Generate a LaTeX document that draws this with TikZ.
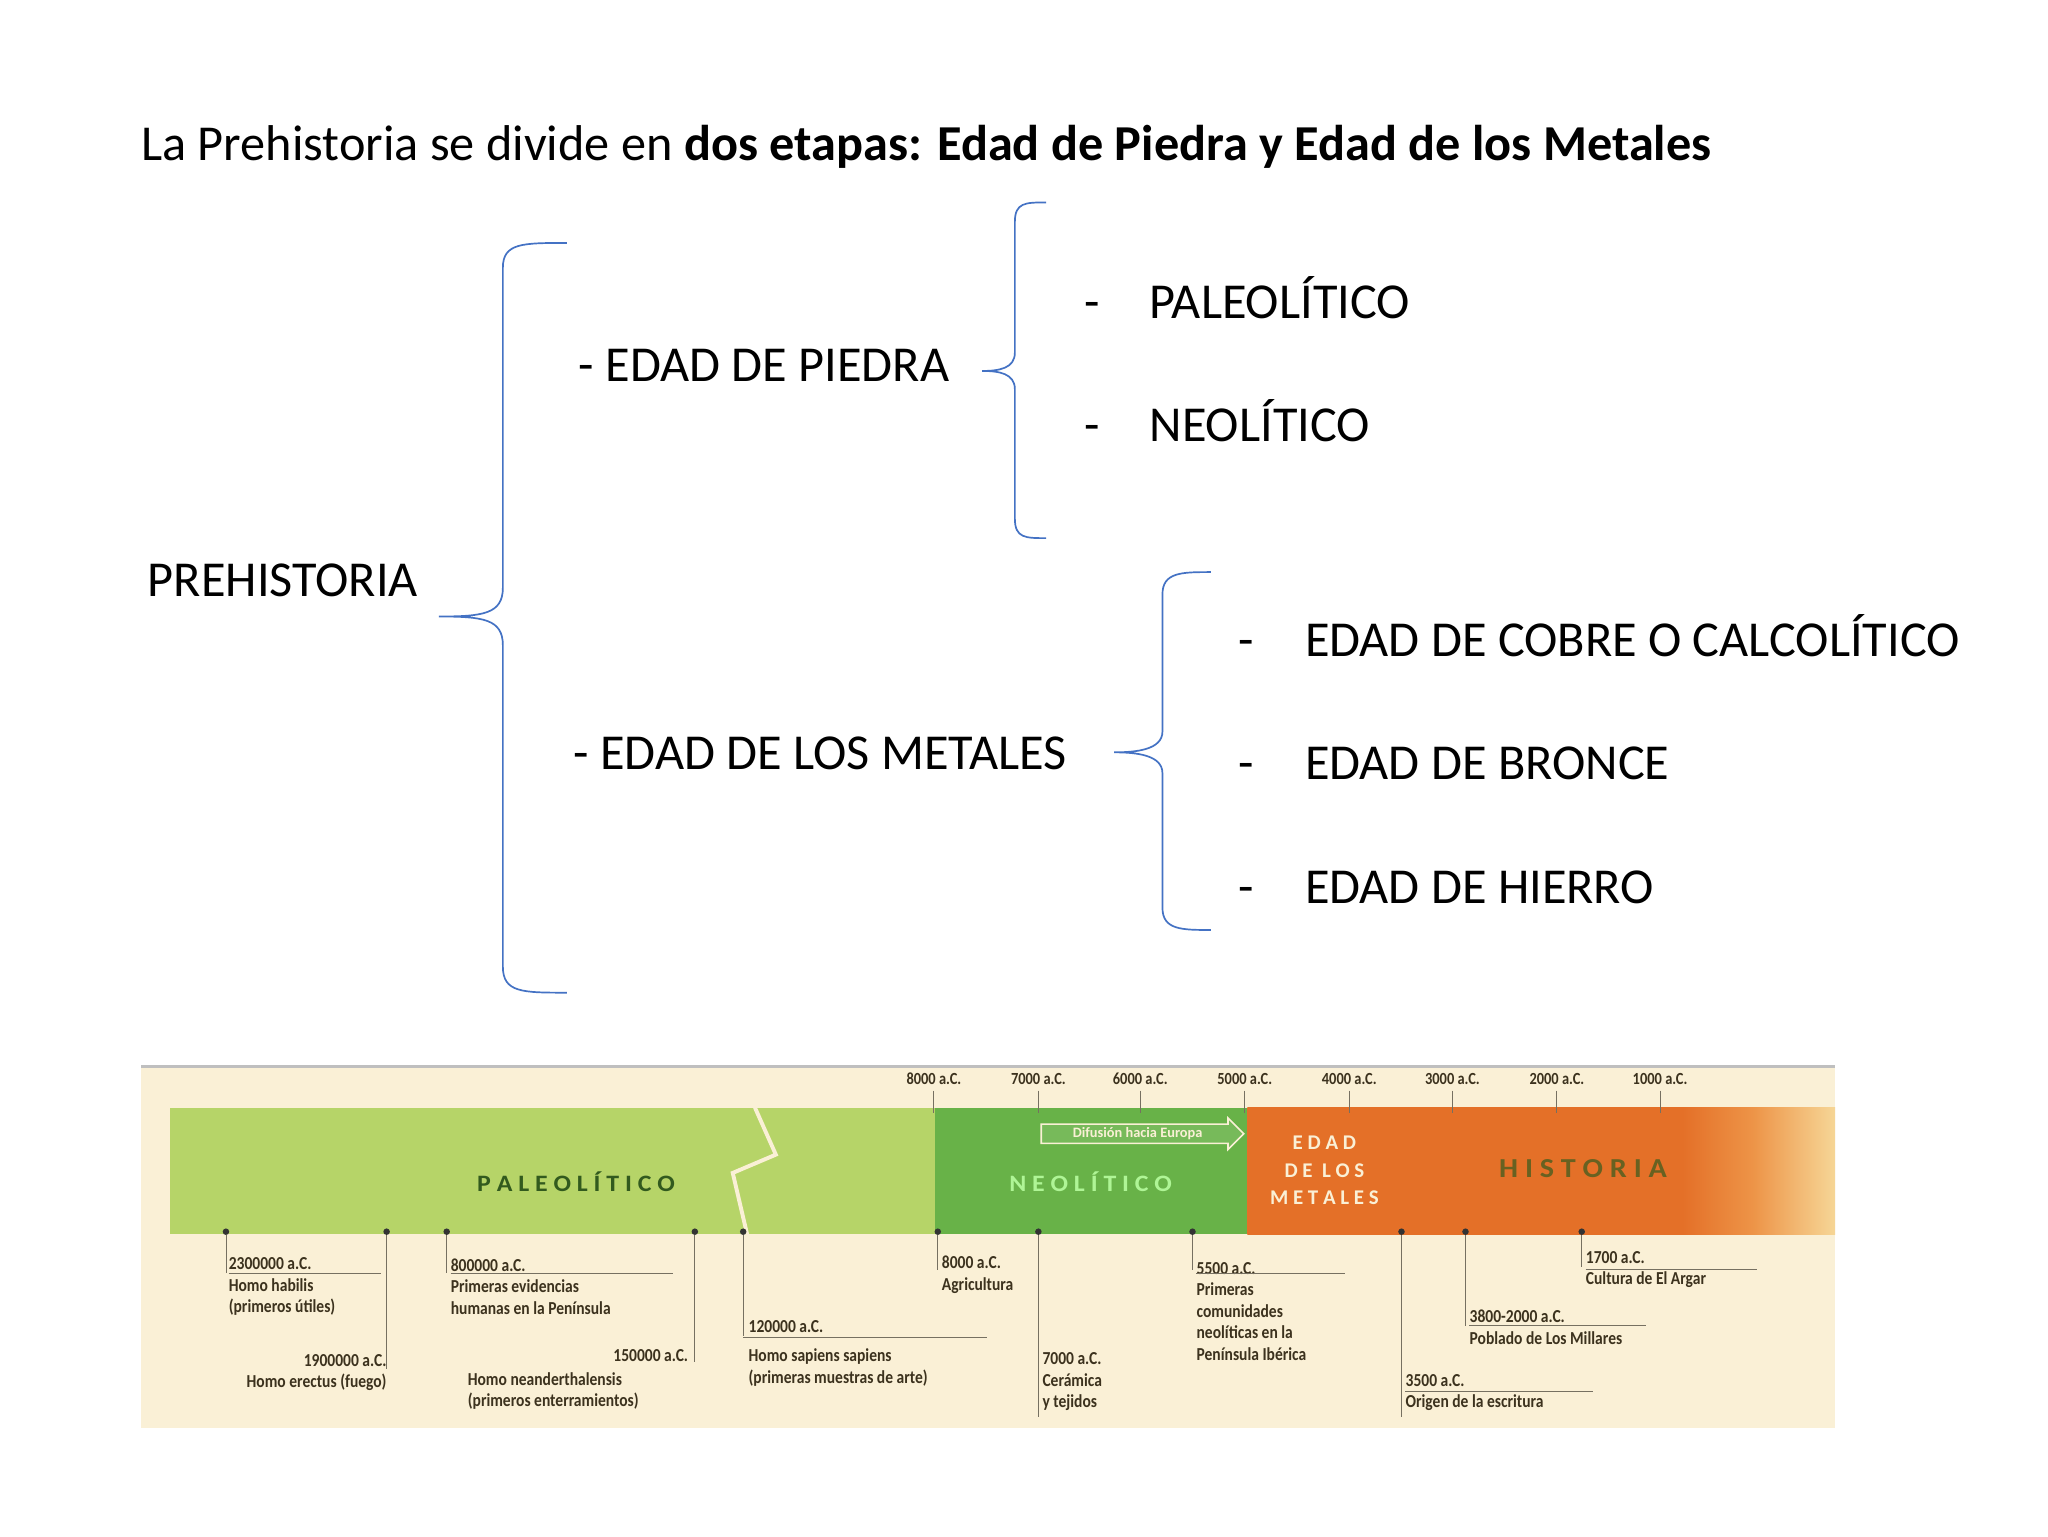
\documentclass[tikz,border=0pt]{standalone}
\usepackage{fontspec}
\setmainfont{Carlito}
\usetikzlibrary{shapes.arrows}
\definecolor{bluebr}{RGB}{68,114,196}
\definecolor{cream}{RGB}{250,240,214}
\definecolor{paleo}{RGB}{182,212,104}
\definecolor{neo}{RGB}{104,178,72}
\definecolor{metal}{RGB}{228,112,40}
\definecolor{darkg}{RGB}{50,90,30}
\definecolor{tl}{RGB}{60,50,30}
\pgfdeclarehorizontalshading{metalfade}{100bp}{rgb(0bp)=(0.894,0.439,0.157); rgb(62bp)=(0.894,0.439,0.157); rgb(68bp)=(0.93,0.58,0.28); rgb(75bp)=(0.965,0.84,0.59); rgb(100bp)=(0.965,0.84,0.59)}
\tikzset{
 big/.style={font=\fontsize{38.5}{44}\selectfont, anchor=base west, inner sep=0pt},
 brace/.style={draw=bluebr, line width=1.3pt},
 sm/.style={font=\fontsize{14}{16.5}\selectfont\bfseries, text=tl, anchor=west, inner sep=0pt, align=left, xscale=0.85},
 tick/.style={draw=tl!70, line width=0.7pt},
 dotm/.style={circle, fill=black!80, inner sep=0pt, minimum size=5pt},
}
\begin{document}
\begin{tikzpicture}[x=1pt,y=-1pt]
\useasboundingbox (0,0) rectangle (1568,1176);
\fill[white] (0,0) rectangle (1568,1176);
% title
\node[big] (title) at (108,123) {La Prehistoria se divide en \textbf{dos etapas: Edad de Piedra y Edad de los Metales}};
% tree
\node[big] (pre) at (113,457) {PREHISTORIA};
\node[big] (piedra) at (443,292) {- EDAD DE PIEDRA};
\node[big] (metales) at (439,589) {- EDAD DE LOS METALES};
\node[big] (d1) at (830,244) {-};
\node[big] (paleo) at (880,244) {PALEOLÍTICO};
\node[big] (d2) at (830,338) {-};
\node[big] (neol) at (880,338) {NEOLÍTICO};
\node[big] (d3) at (948,503) {-};
\node[big] (cobre) at (999,503) {EDAD DE COBRE O CALCOLÍTICO};
\node[big] (d4) at (948,597) {-};
\node[big] (bronce) at (999,597) {EDAD DE BRONCE};
\node[big] (d5) at (948,692) {-};
\node[big] (hierro) at (999,692) {EDAD DE HIERRO};
% braces
\coordinate (b1t) at (434,186); \coordinate (b1m) at (336,472); \coordinate (b1b) at (434,760);
\draw[brace] (b1t) .. controls (400,186) and (385,186) .. (385,205) -- (385,450) .. controls (385,470) and (370,472) .. (b1m)
  .. controls (370,472) and (385,474) .. (385,494) -- (385,740) .. controls (385,760) and (400,760) .. (b1b);
\coordinate (b2t) at (801,155); \coordinate (b2m) at (752,284); \coordinate (b2b) at (801,412);
\draw[brace] (b2t) .. controls (785,155) and (777,155) .. (777,170) -- (777,270) .. controls (777,282) and (765,284) .. (b2m)
  .. controls (765,284) and (777,286) .. (777,298) -- (777,397) .. controls (777,412) and (785,412) .. (b2b);
\coordinate (b3t) at (927,438); \coordinate (b3m) at (853,576); \coordinate (b3b) at (927,712);
\draw[brace] (b3t) .. controls (905,438) and (890,438) .. (890,455) -- (890,560) .. controls (890,574) and (870,576) .. (b3m)
  .. controls (870,576) and (890,578) .. (890,592) -- (890,695) .. controls (890,712) and (905,712) .. (b3b);
% timeline
\fill[cream] (108,815) rectangle (1405,1093);
\fill[black!25] (108,815) rectangle (1405,818);
\fill[paleo] (130,848) rectangle (716,945);
\fill[neo] (716,848) rectangle (955,945);
\shade[shading=metalfade] (955,848) rectangle (1405,945);
\draw[cream, line width=3pt] (578,848) -- (594,884) -- (561,898) -- (572,945);
\foreach \x/\t in {715/8000,795/7000,873/6000,953/5000,1033/4000,1112/3000,1192/2000,1271/1000}{
  \node[sm, anchor=center, font=\fontsize{13}{15}\selectfont\bfseries] at (\x,826) {\t\ a.C.};
  \draw[tick] (\x,835) -- (\x,852);
}
\node[font=\fontsize{18}{20}\selectfont\bfseries, text=darkg, xscale=1.1] (tpal) at (441,905) {P A L E O L Í T I C O};
\node[font=\fontsize{18}{20}\selectfont\bfseries, text=cream!70!green, xscale=1.1] (tneo) at (835,905) {N E O L Í T I C O};
\node[single arrow, draw=cream, fill=neo!90!white, line width=1.2pt, minimum height=155pt, minimum width=24pt, single arrow head extend=4pt, inner sep=1pt, font=\fontsize{11}{12}\selectfont\bfseries, text=cream] (dif) at (871,868) {Difusión hacia Europa};
\node[font=\fontsize{16}{21}\selectfont\bfseries, text=cream, align=center] (tmet) at (1014,896) {E D A D\\D E\ \ L O S\\M E T A L E S};
\node[font=\fontsize{21}{24}\selectfont\bfseries, text=darkg!70!metal, xscale=1.1] (this) at (1212,895) {H I S T O R I A};
% events
\foreach \n/\x/\y in {e1/173/975, e2/296/1048, e3/342/975, e4/532/1043, e5/569/1023, e6/718/972, e7/795/1085, e8/913/972, e9/1073/1085, e10/1122/1015, e11/1211/970}{
  \node[dotm] (\n) at (\x,943) {};
  \coordinate (\n e) at (\x,\y);
  \draw[tick] (\n) -- (\n e);
}
\node[sm] (t1) at (175,985) {2300000 a.C.\\Homo habilis\\(primeros útiles)};
\draw[tick] (175,975) -- (292,975);
\node[sm, anchor=east, align=right] (t2) at (296,1051) {1900000 a.C.\\Homo erectus (fuego)};
\node[sm] (t3) at (345,985) {800000 a.C.\\Primeras evidencias\\humanas en la Península};
\draw[tick] (345,975) -- (515,975);
\node[sm, anchor=east] (t4a) at (527,1038) {150000 a.C.};
\node[sm] (t4) at (358,1065) {Homo neanderthalensis\\(primeros enterramientos)};
\node[sm] (t5) at (573,1016) {120000 a.C.};
\draw[tick] (569,1024) -- (756,1024);
\node[sm] (t5b) at (573,1047) {Homo sapiens sapiens\\(primeras muestras de arte)};
\node[sm] (t6) at (721,976) {8000 a.C.\\Agricultura};
\node[sm] (t7) at (798,1058) {7000 a.C.\\Cerámica\\y tejidos};
\node[sm] (t8) at (916,1004) {5500 a.C.\\Primeras\\comunidades\\neolíticas en la\\Península Ibérica};
\draw[tick] (916,975) -- (1030,975);
\node[sm] (t9) at (1076,1066) {3500 a.C.\\Origen de la escritura};
\draw[tick] (1076,1065) -- (1220,1065);
\node[sm] (t10) at (1125,1016) {3800-2000 a.C.\\Poblado de Los Millares};
\draw[tick] (1125,1015) -- (1260,1015);
\node[sm] (t11) at (1214,972) {1700 a.C.\\Cultura de El Argar};
\draw[tick] (1214,972) -- (1345,972);
\end{tikzpicture}
\end{document}
